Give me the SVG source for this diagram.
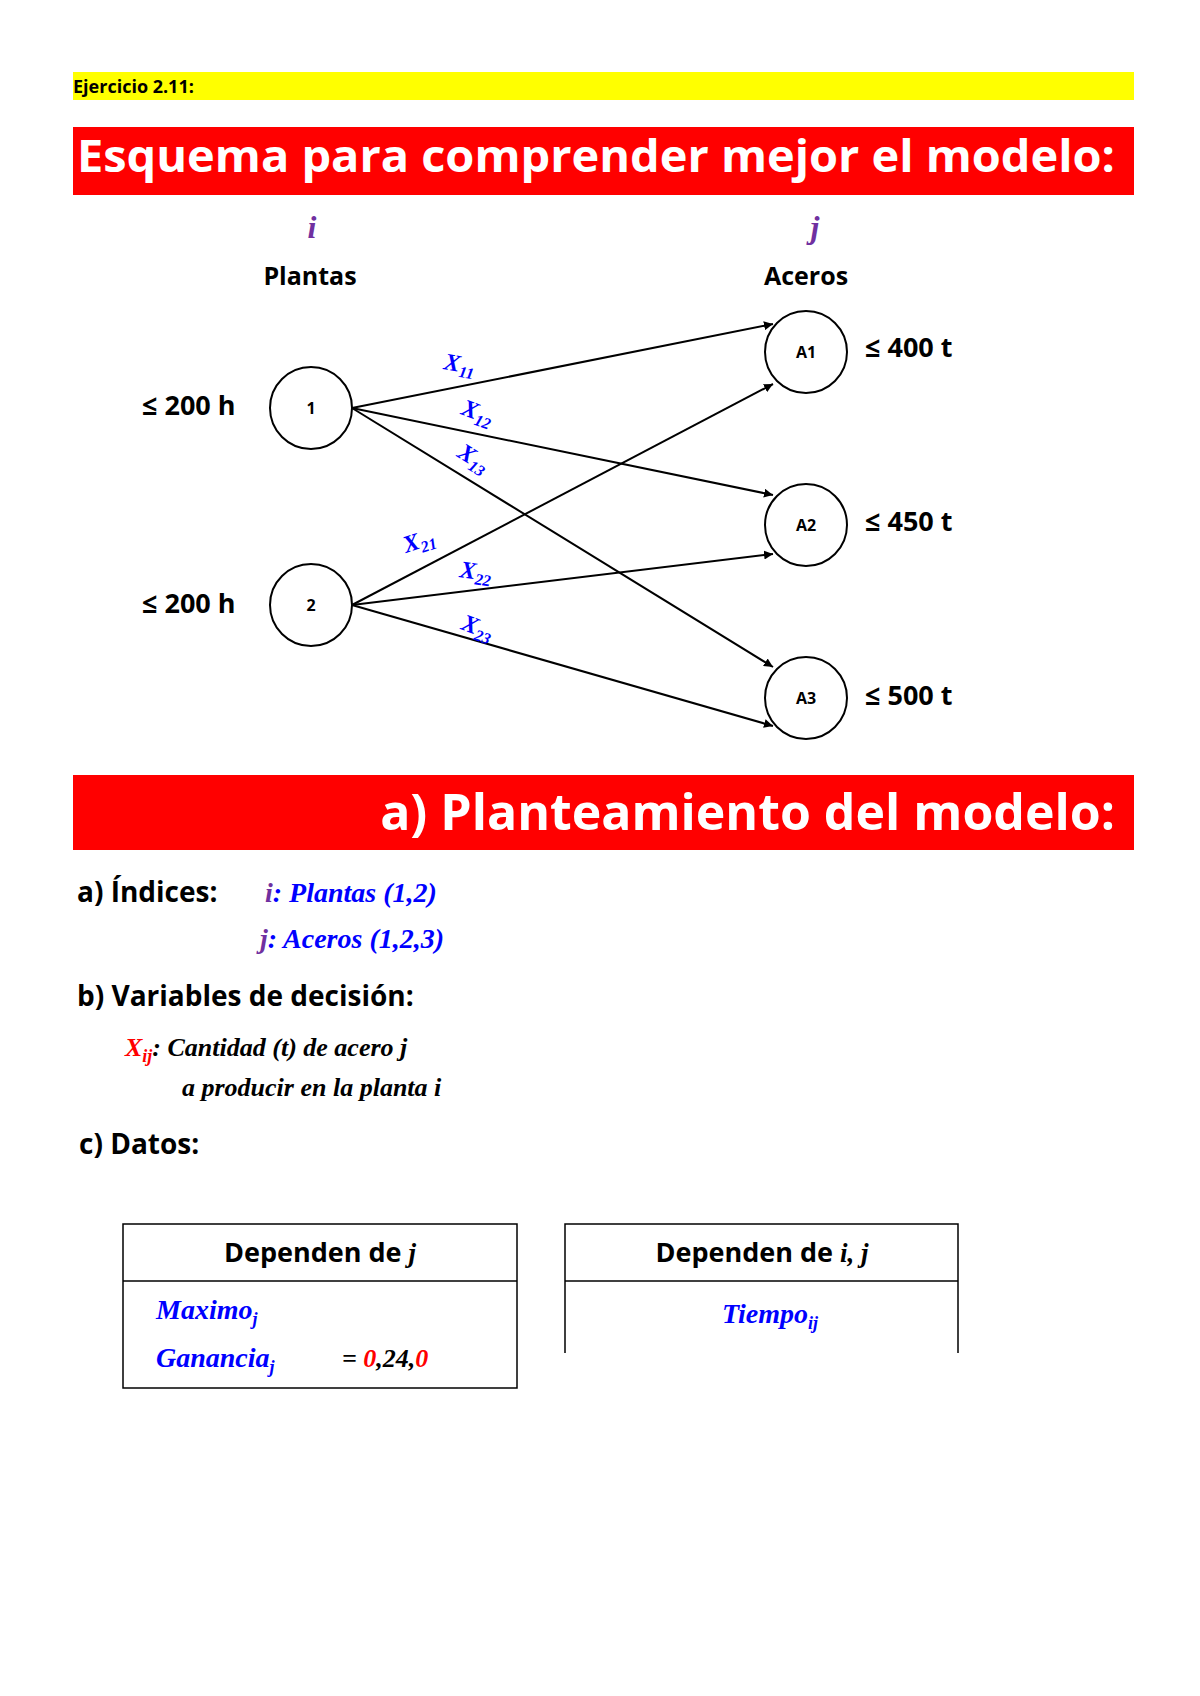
<svg xmlns="http://www.w3.org/2000/svg" width="1200" height="1696" viewBox="0 0 1200 1696">
<defs>
<marker id="ar" viewBox="0 0 10 10" refX="10" refY="5" markerWidth="9" markerHeight="9" markerUnits="userSpaceOnUse" orient="auto"><path d="M0,0 L10,5 L0,10 z" fill="#000"/></marker>
<style>
.s{font-family:"Open Sans","Liberation Sans",sans-serif;font-weight:bold;fill:#000}
.w{font-family:"Open Sans","Liberation Sans",sans-serif;font-weight:bold;fill:#fff}
.m{font-family:"Liberation Serif",serif;font-style:italic;font-weight:bold}
.b{fill:#0000ff}.p{fill:#7030a0}.r{fill:#ff0000}.k{fill:#000}
.n{fill:#fff;stroke:#000;stroke-width:2}
.e{stroke:#000;stroke-width:2;fill:none;marker-end:url(#ar)}
.t{stroke:#000;stroke-width:1.5;fill:none}
</style>
</defs>
<rect width="1200" height="1696" fill="#fff"/>
<rect x="73" y="72" width="1061" height="28" fill="#ffff00"/>
<text x="73" y="93" class="s" font-size="18">Ejercicio 2.11:</text>
<rect x="73" y="127" width="1061" height="68" fill="#ff0000"/>
<text x="77" y="172" class="w" font-size="44" textLength="1038" lengthAdjust="spacingAndGlyphs">Esquema para comprender mejor el modelo:</text>
<text x="312" y="238" class="m p" font-size="32" text-anchor="middle">i</text>
<text x="815" y="238" class="m p" font-size="32" text-anchor="middle">j</text>
<text x="310" y="285" class="s" font-size="25" text-anchor="middle">Plantas</text>
<text x="806" y="285" class="s" font-size="25" text-anchor="middle">Aceros</text>
<g id="connectors">
<line class="e" x1="352" y1="408" x2="773" y2="324"/>
<line class="e" x1="352" y1="408" x2="773" y2="495"/>
<line class="e" x1="352" y1="408" x2="773" y2="667"/>
<line class="e" x1="352" y1="605" x2="773" y2="384"/>
<line class="e" x1="352" y1="605" x2="773" y2="554"/>
<line class="e" x1="352" y1="605" x2="773" y2="726"/>
<text class="m b" font-size="24" transform="translate(443,369) rotate(10)">X<tspan font-size="16" dy="5">11</tspan></text>
<text class="m b" font-size="24" transform="translate(460,414) rotate(20)">X<tspan font-size="16" dy="5">12</tspan></text>
<text class="m b" font-size="24" transform="translate(456,456) rotate(32)">X<tspan font-size="16" dy="5">13</tspan></text>
<text class="m b" font-size="24" transform="translate(406,553) rotate(-18)">X<tspan font-size="16" dy="5">21</tspan></text>
<text class="m b" font-size="24" transform="translate(459,577) rotate(8)">X<tspan font-size="16" dy="5">22</tspan></text>
<text class="m b" font-size="24" transform="translate(460,629) rotate(20)">X<tspan font-size="16" dy="5">23</tspan></text>
</g>
<g id="n1"><circle class="n" cx="311" cy="408" r="41"/><text x="311" y="414" class="s" font-size="16" text-anchor="middle">1</text></g>
<g id="n2"><circle class="n" cx="311" cy="605" r="41"/><text x="311" y="611" class="s" font-size="16" text-anchor="middle">2</text></g>
<g id="A1"><circle class="n" cx="806" cy="352" r="41"/><text x="806" y="358" class="s" font-size="16" text-anchor="middle">A1</text></g>
<g id="A2"><circle class="n" cx="806" cy="525" r="41"/><text x="806" y="531" class="s" font-size="16" text-anchor="middle">A2</text></g>
<g id="A3"><circle class="n" cx="806" cy="698" r="41"/><text x="806" y="704" class="s" font-size="16" text-anchor="middle">A3</text></g>
<text x="142" y="415" class="s" font-size="27">≤ 200 h</text>
<text x="142" y="613" class="s" font-size="27">≤ 200 h</text>
<text x="865" y="357" class="s" font-size="27">≤ 400 t</text>
<text x="865" y="531" class="s" font-size="27">≤ 450 t</text>
<text x="865" y="705" class="s" font-size="27">≤ 500 t</text>
<rect x="73" y="775" width="1061" height="75" fill="#ff0000"/>
<text x="1115" y="830" class="w" font-size="50" text-anchor="end">a) Planteamiento del modelo:</text>
<text x="77" y="902" class="s" font-size="28">a) Índices:</text>
<text x="265" y="902" class="m" font-size="28"><tspan class="p">i</tspan><tspan class="b">: Plantas (1,2)</tspan></text>
<text x="260" y="948" class="m" font-size="28"><tspan class="p">j</tspan><tspan class="b">: Aceros (1,2,3)</tspan></text>
<text x="77" y="1006" class="s" font-size="28">b) Variables de decisión:</text>
<text x="125" y="1056" class="m" font-size="26"><tspan class="r">X<tspan font-size="18" dy="6">ij</tspan></tspan><tspan class="k" dy="-6">: Cantidad (t) de acero j</tspan></text>
<text x="182" y="1096" class="m k" font-size="26">a producir en la planta i</text>
<text x="79" y="1154" class="s" font-size="28">c) Datos:</text>
<g id="tabla1">
<rect class="t" x="123" y="1224" width="394" height="164"/>
<line class="t" x1="123" y1="1281" x2="517" y2="1281"/>
<text x="320" y="1262" class="s" font-size="27" text-anchor="middle">Dependen de <tspan class="m">j</tspan></text>
<text x="156" y="1319" class="m b" font-size="28">Maximo<tspan font-size="18" dy="6">j</tspan></text>
<text x="156" y="1367" class="m b" font-size="28">Ganancia<tspan font-size="18" dy="6">j</tspan></text>
<text x="342" y="1367" class="m" font-size="26"><tspan class="k">= </tspan><tspan class="r">0</tspan><tspan class="k">,24,</tspan><tspan class="r">0</tspan></text>
</g>
<g id="tabla2">
<path class="t" d="M565,1353 V1224 H958 V1353"/>
<line class="t" x1="565" y1="1281" x2="958" y2="1281"/>
<text x="762" y="1262" class="s" font-size="27" text-anchor="middle">Dependen de <tspan class="m">i, j</tspan></text>
<text x="770" y="1323" class="m b" font-size="28" text-anchor="middle">Tiempo<tspan font-size="18" dy="6">ij</tspan></text>
</g>
</svg>
